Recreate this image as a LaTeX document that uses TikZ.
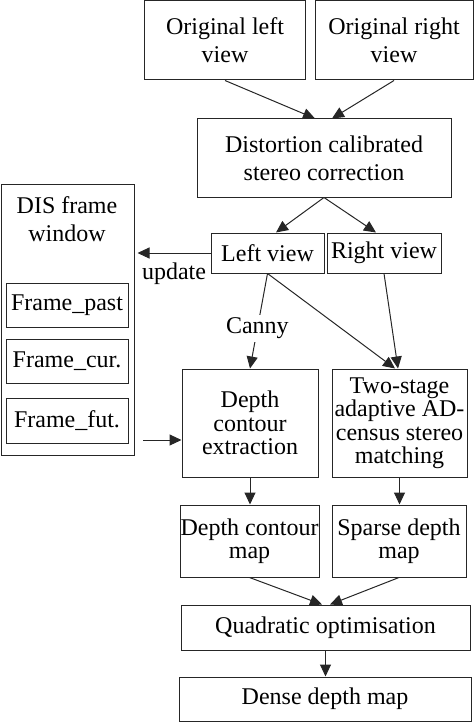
\documentclass[tikz,border=0pt]{standalone}
\usepackage{fontspec}
\setmainfont{Liberation Serif}
\usetikzlibrary{arrows.meta,calc}
\begin{document}
\begin{tikzpicture}[x=1pt,y=-1pt,
  box/.style={draw=black!85, line width=1pt, rectangle, inner sep=0pt, align=center, font=\fontsize{24}{28}\selectfont},
  tight/.style={font=\fontsize{24}{23.5}\selectfont},
  sz/.style 2 args={minimum width=#1pt, minimum height=#2pt},
  arr/.style={draw=black!85, line width=1pt, -{Triangle[length=12pt,width=11pt]}},
  lbl/.style={inner sep=0pt, align=center, font=\fontsize{24}{28}\selectfont}]
\useasboundingbox (0,0) rectangle (474,722);
% boxes
\node[box, sz={161}{79}] (ol) at (225,40.5) {Original left\\view};
\node[box, sz={158}{79}] (or) at (394,40.5) {Original right\\view};
\node[box, sz={254}{78}] (dist) at (324,158) {Distortion calibrated\\stereo correction};
\node[box, sz={113}{40}] (lv) at (267.5,253) {Left view};
\node[box, sz={114}{40}] (rv) at (384,253) {Right view};
\node[box, sz={133}{271}] (dis) at (67.5,319.5) {};
\node[lbl] (distitle) at (67,219) {DIS frame\\window};
\node[box, sz={122}{44}] (fp) at (67,305) {Frame\_past};
\node[box, sz={122}{44}] (fc) at (67,361) {Frame\_cur.};
\node[box, sz={122}{45}] (ff) at (67,420.5) {Frame\_fut.};
\node[box, tight, sz={136}{108}] (dce) at (250,423) {Depth\\contour\\extraction};
\node[box, tight, sz={135}{108}] (ts) at (399.5,423) {Two-stage\\adaptive AD-\\census stereo\\matching};
\node[box, tight, sz={139}{72}] (dcm) at (249.5,541) {Depth contour\\map};
\node[box, tight, sz={134}{72}] (sdm) at (399,541) {Sparse depth\\map};
\node[box, sz={289}{45}] (qo) at (325.5,627.5) {Quadratic optimisation};
\node[box, sz={292}{44}] (ddm) at (325,699) {Dense depth map};
% connectors
\draw[arr] (ol.south) -- ([xshift=-9pt]dist.north);
\draw[arr] (or.south) -- ([xshift=8pt]dist.north);
\draw[arr] (dist.south) -- ([xshift=8.5pt]lv.north);
\draw[arr] (dist.south) -- ([xshift=-8pt]rv.north);
\draw[arr] (lv.west) -- ($(dis.east |- lv.west)+(3,0)$) node[lbl, midway, below=9pt] (upd) {update};
\draw[arr] (lv.south) -- node[lbl, fill=white, inner sep=3pt, pos=0.58] (canny) {Canny} (dce.north);
\draw[arr] (lv.south) -- ([xshift=-4.5pt]ts.north);
\draw[arr] (rv.south) -- ([xshift=-1.5pt]ts.north);
\draw[arr] (dce.south) -- (dce.south |- dcm.north);
\draw[arr] (ts.south) -- (ts.south |- sdm.north);
\draw[arr] (dcm.south) -- ([xshift=-3.5pt]qo.north);
\draw[arr] (sdm.south) -- ([xshift=4.5pt]qo.north);
\draw[arr] (qo.south) -- (qo.south |- ddm.north);
\coordinate (fin) at (143,440);
\draw[arr] (fin) -- (fin -| dce.west);
\end{tikzpicture}
\end{document}
